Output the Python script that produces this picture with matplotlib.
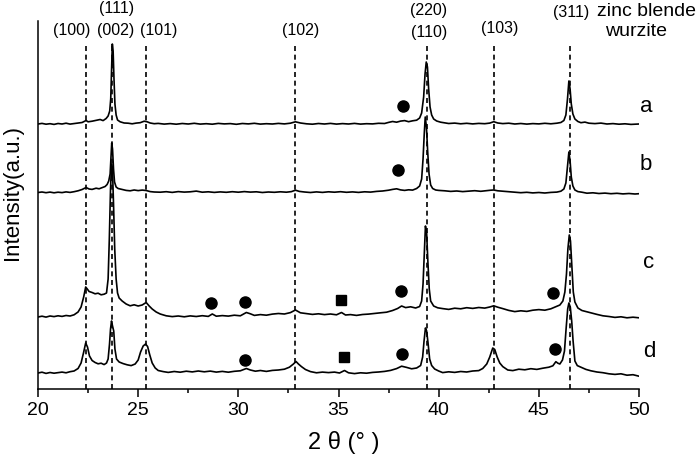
import matplotlib
matplotlib.use("Agg")
import matplotlib.pyplot as plt
from matplotlib.ticker import MultipleLocator
import numpy as np

plt.rcParams['font.family'] = ['Liberation Sans', 'DejaVu Sans']

# XRD patterns, stacked (2theta, intensity in a.u. with offset)
curve_a = [(20.0,265),(20.2,265.6),(20.4,264.8),(20.6,265.3),(20.8,264.6),(21.0,265.5),(21.2,265.0),(21.4,265.8),
           (21.6,264.9),(21.8,265.4),(22.0,265.9),(22.2,266.5),(22.4,268.5),(22.5,267.2),(22.7,267.8),(22.9,268.6),
           (23.1,269.5),(23.25,268.4),(23.4,270.5),(23.5,273),(23.58,278),(23.63,290),(23.67,318),(23.71,345),
           (23.75,338),(23.79,312),(23.84,285),(23.9,274),(23.97,269),(24.1,267.2),(24.3,266),(24.5,265.8),
           (24.7,265.2),(24.9,265.9),(25.1,266.3),(25.3,267.8),(25.45,267.2),(25.6,266),(25.8,265.3),(26.0,265.6),
           (26.3,264.9),(26.6,265.4),(26.9,264.8),(27.2,265.5),(27.5,265),(27.8,265.7),(28.1,264.9),(28.4,265.3),
           (28.7,264.8),(29.0,265.6),(29.3,265.1),(29.6,265.4),(29.9,264.7),(30.2,265.5),(30.5,265.1),(30.8,265.7),
           (31.1,264.9),(31.4,265.3),(31.7,265),(32.0,265.6),(32.3,265.1),(32.6,265.8),(32.85,267.2),(33.1,266),
           (33.4,265.2),(33.7,264.8),(34.0,265.5),(34.3,265),(34.6,265.6),(34.9,264.9),(35.2,265.4),(35.5,265),
           (35.8,265.6),(36.1,264.9),(36.4,265.3),(36.7,265.1),(37.0,265.7),(37.3,265.5),(37.5,266.6),(37.7,267.5),
           (37.9,266.8),(38.1,267.9),(38.3,268.4),(38.5,267.3),(38.7,268.2),(38.9,268.8),(39.05,271),(39.15,276),
           (39.25,292),(39.32,315),(39.38,327),(39.44,322),(39.5,300),(39.57,282),(39.65,274),(39.75,270),
           (39.9,268),(40.1,266.8),(40.3,266.2),(40.5,265.5),(40.8,265.9),(41.1,265.2),(41.4,265.7),(41.7,265.1),
           (42.0,265.6),(42.3,265.3),(42.55,265.9),(42.75,267.3),(42.95,266),(43.2,265.4),(43.5,265.8),(43.8,265),
           (44.1,265.5),(44.4,264.9),(44.7,265.4),(45.0,265.1),(45.3,265.7),(45.6,265.2),(45.9,265.8),(46.1,266.5),
           (46.25,268.5),(46.35,274),(46.43,290),(46.5,308),(46.56,300),(46.62,285),(46.7,275),(46.8,270),
           (46.95,267.5),(47.1,266.3),(47.3,266.9),(47.5,265.8),(47.8,265.4),(48.1,265.9),(48.4,265),(48.7,265.4),
           (49.0,264.8),(49.3,265.2),(49.6,264.6),(50.0,265)]

curve_b = [(20.0,196.5),(20.2,197),(20.4,196.3),(20.6,196.9),(20.8,196.2),(21.0,196.8),(21.2,196.4),(21.4,197.1),
           (21.6,196.6),(21.8,197.3),(22.0,198.2),(22.2,199.5),(22.4,201.5),(22.55,200),(22.7,199.6),(22.9,200.8),
           (23.05,200.2),(23.2,201.3),(23.35,202.5),(23.45,204.5),(23.53,208),(23.6,215),(23.64,230),(23.68,246),
           (23.72,240),(23.77,220),(23.82,207),(23.9,202),(24.0,200.5),(24.2,199.5),(24.4,198.6),(24.6,198.2),
           (24.8,199),(25.0,198.4),(25.2,198.9),(25.4,198.5),(25.6,197.4),(25.8,197),(26.1,196.8),(26.4,197.3),
           (26.7,196.6),(27.0,197.4),(27.3,196.9),(27.6,197.2),(27.9,197.9),(28.2,196.8),(28.5,197.2),(28.8,196.6),
           (29.1,197.1),(29.4,196.7),(29.7,197.3),(30.0,196.8),(30.3,197.4),(30.6,196.9),(30.9,197.2),(31.2,196.5),
           (31.5,197),(31.8,196.7),(32.1,197.2),(32.4,196.8),(32.65,197.4),(32.85,198.8),(33.05,197.6),(33.3,197),
           (33.6,196.5),(33.9,197.1),(34.2,196.6),(34.5,197.2),(34.8,196.8),(35.1,197.3),(35.4,196.7),(35.7,197.1),
           (36.0,196.6),(36.3,197.2),(36.6,196.9),(36.9,197.6),(37.2,198),(37.5,198.8),(37.7,199.6),(37.9,200.2),
           (38.1,199.1),(38.3,198.6),(38.5,199.2),(38.7,198.9),(38.9,200.5),(39.05,203),(39.15,210),(39.22,230),
           (39.28,255),(39.33,272),(39.39,262),(39.45,238),(39.52,215),(39.6,204),(39.7,200.5),(39.85,199),
           (40.0,198.6),(40.3,198.2),(40.6,197.6),(40.9,198),(41.2,197.4),(41.5,197.9),(41.8,198.3),(42.1,197.7),
           (42.4,198.4),(42.6,198.8),(42.75,199),(42.95,198.2),(43.2,197.8),(43.5,197.4),(43.8,196.8),(44.1,196.3),
           (44.4,196.7),(44.7,196.1),(45.0,196.5),(45.3,196),(45.6,196.6),(45.9,196.9),(46.1,197.8),(46.25,200),
           (46.35,206),(46.43,222),(46.5,237),(46.56,228),(46.62,212),(46.7,203),(46.8,199),(46.95,197.4),
           (47.15,196.8),(47.4,195.8),(47.7,196.2),(48.0,195.5),(48.3,195.9),(48.6,195.3),(48.9,195.7),(49.2,195.1),
           (49.5,195.5),(49.8,195),(50.0,195.3)]

curve_c = [(20.0,72),(20.2,72.8),(20.4,71.9),(20.6,73),(20.8,72.4),(21.0,73.2),(21.2,72.6),(21.4,73.5),
           (21.6,73),(21.8,74.2),(22.0,77),(22.15,82),(22.28,92),(22.38,102),(22.46,100),(22.55,97.5),
           (22.7,96.5),(22.85,95.2),(23.0,95.8),(23.15,94.2),(23.3,94.8),(23.42,96),(23.5,110),(23.56,150),
           (23.62,200),(23.67,225),(23.72,218),(23.77,185),(23.83,140),(23.9,110),(23.97,96),(24.05,91),
           (24.2,88),(24.4,85),(24.6,83.2),(24.8,84.2),(25.0,83),(25.2,84),(25.4,86.5),(25.55,83),
           (25.7,80),(25.9,77),(26.1,75),(26.4,73.2),(26.7,72.4),(27.0,73),(27.3,72.2),(27.6,73.1),
           (27.9,72.5),(28.2,73.3),(28.5,72.6),(28.7,75),(28.9,72.8),(29.2,73.4),(29.5,72.9),(29.8,73.8),
           (30.1,73.2),(30.4,76.5),(30.6,75.2),(30.8,73.6),(31.1,74.4),(31.4,73.8),(31.7,74.9),(32.0,75.5),
           (32.3,75),(32.6,76.4),(32.85,79),(33.1,76.2),(33.4,75.4),(33.7,74.6),(34.0,75.2),(34.3,74.4),
           (34.6,75),(34.9,74.2),(35.15,76.5),(35.35,74),(35.6,74.4),(35.9,73.6),(36.2,74.5),(36.5,74.9),
           (36.8,75.6),(37.1,76.2),(37.4,76.8),(37.7,78.5),(37.95,80.5),(38.15,83),(38.35,81.4),(38.6,82.2),
           (38.85,81),(39.05,82.5),(39.15,88),(39.22,105),(39.28,135),(39.34,163),(39.4,156),(39.46,128),
           (39.53,100),(39.6,88),(39.75,83),(39.95,81.2),(40.2,80.4),(40.5,79.6),(40.8,80.8),(41.1,80.2),
           (41.4,81.3),(41.7,80.6),(42.0,81.5),(42.3,80.9),(42.55,82),(42.75,83.2),(42.95,81.8),(43.2,80.4),
           (43.5,78.6),(43.8,77.4),(44.1,78.2),(44.4,77.6),(44.7,78.8),(45.0,79.4),(45.3,78.8),(45.6,80.2),
           (45.85,82.3),(46.05,84),(46.2,88),(46.3,97),(46.38,115),(46.45,140),(46.52,154),(46.58,148),
           (46.65,122),(46.72,97),(46.8,87),(46.95,81),(47.15,78.5),(47.4,77.2),(47.65,75.8),(47.9,74.6),
           (48.2,73.2),(48.5,72.5),(48.8,71.6),(49.1,72.2),(49.4,71.2),(49.7,71.8),(50.0,71.2)]

curve_d = [(20.0,16),(20.2,16.8),(20.4,15.6),(20.6,16.5),(20.8,15.8),(21.0,16.4),(21.2,16.9),(21.4,16.2),
           (21.6,17.3),(21.8,18),(22.0,20.5),(22.15,26),(22.27,36),(22.38,46),(22.47,42),(22.57,33),
           (22.7,28.5),(22.85,26.5),(23.0,25.2),(23.15,25.8),(23.3,24.4),(23.42,26),(23.5,30),(23.57,45),
           (23.62,60),(23.67,68),(23.72,63),(23.78,58),(23.84,40),(23.92,30),(24.05,27),(24.25,25.4),
           (24.45,24.2),(24.65,23.4),(24.85,25),(25.0,29),(25.12,37),(25.25,43),(25.37,45),(25.47,42.5),
           (25.58,34),(25.7,26),(25.85,21),(26.0,18.5),(26.25,17.4),(26.5,16.6),(26.8,17.5),(27.1,16.8),
           (27.4,17.8),(27.7,17.1),(28.0,18),(28.3,17.2),(28.6,17.9),(28.9,16.9),(29.2,17.6),(29.5,16.8),
           (29.8,17.7),(30.1,18.2),(30.4,20.5),(30.6,19),(30.85,17.8),(31.1,18.5),(31.4,17.6),(31.7,18.6),
           (32.0,19),(32.3,19.8),(32.55,21.8),(32.75,25),(32.88,27.5),(33.0,25),(33.15,22.4),(33.35,19.5),
           (33.6,17.4),(33.9,16.2),(34.2,16.9),(34.5,16.4),(34.8,16.9),(35.05,16),(35.3,18.5),(35.5,16.2),
           (35.8,15.4),(36.1,16.2),(36.4,15.8),(36.7,16.6),(37.0,17),(37.3,17.6),(37.6,18.6),(37.9,20.4),
           (38.15,22.8),(38.4,21.6),(38.65,20.2),(38.9,21),(39.1,23.5),(39.2,32),(39.27,48),(39.34,61),
           (39.4,58),(39.47,46),(39.55,30),(39.65,23.5),(39.8,20),(40.0,18),(40.2,16.4),(40.5,17.2),
           (40.8,16.6),(41.1,17.5),(41.4,17),(41.7,18),(42.0,18.4),(42.2,20.5),(42.4,25),(42.55,32),
           (42.7,41),(42.8,39.5),(42.92,32),(43.05,26),(43.2,22.4),(43.45,19),(43.7,18.4),(44.0,19.8),
           (44.3,19.2),(44.6,20.3),(44.9,19.6),(45.2,20.8),(45.5,21.8),(45.7,23.2),(45.85,27.3),(45.95,25.8),
           (46.05,25),(46.18,29),(46.28,38),(46.36,60),(46.44,80),(46.5,86),(46.57,82),(46.64,68),
           (46.71,48),(46.8,28),(46.92,23.4),(47.1,21.8),(47.35,19.6),(47.6,18.2),(47.9,17),(48.2,16.3),
           (48.5,15.2),(48.8,14.6),(49.1,15.2),(49.4,13.8),(49.7,14.3),(50.0,12.8)]

# reflection positions (dashed lines)
refl_pos = [22.4, 23.7, 25.4, 32.85, 39.4, 42.75, 46.55]

# Miller index labels (x, y, text)
hkl_labels = [(23.94, 382, '(111)'), (21.70, 360, '(100)'), (23.87, 360, '(002)'), (26.04, 360, '(101)'),
              (33.13, 360, '(102)'), (39.52, 380, '(220)'), (39.52, 358, '(110)'), (43.07, 362, '(103)'),
              (46.63, 378, '(311)')]
phase_labels = [(50.35, 378, 'zinc blende'), (49.85, 358, 'wurzite')]
curve_labels = [(50.05, 283, 'a'), (50.05, 225, 'b'), (50.2, 128, 'c'), (50.2, 38, 'd')]

# impurity marks
circle_x = [38.24, 37.96, 28.64, 30.34, 38.1, 45.71, 30.34, 38.19, 45.8]
circle_y = [283, 219.3, 86, 87.3, 98, 96, 29.3, 35.3, 40]
square_x = [35.11, 35.28]
square_y = [89.3, 32]

fig = plt.figure(figsize=(7, 4.56), dpi=100)
ax = fig.add_axes([38/700, 66/456, 601/700, 368/456])

for curve in [curve_a, curve_b, curve_c, curve_d]:
    xy = np.array(curve)
    ax.plot(xy[:, 0], xy[:, 1], color='black', lw=1.2)

ax.vlines(refl_pos, 0, 345, colors='black', linestyles=(0, (3, 2.2)), lw=1.2)

ax.plot(circle_x, circle_y, 'o', color='black', ms=8)
ax.plot(square_x, square_y, 's', color='black', ms=6.5)

for x, y, t in hkl_labels:
    ax.text(x, y, t, ha='center', va='center', fontsize=11.5)
for x, y, t in phase_labels:
    ax.text(x, y, t, ha='center', va='center', fontsize=14)
for x, y, t in curve_labels:
    ax.text(x, y, t, ha='left', va='center', fontsize=16)

# axes
ax.set_xlim(20, 50)
ax.set_ylim(0, 368)
ax.set_xticks(range(20, 51, 5))
ax.xaxis.set_minor_locator(MultipleLocator(2.5))
ax.set_yticks([])
ax.tick_params(axis='x', which='major', direction='out', length=6, width=1.1, labelsize=14, pad=3)
ax.tick_params(axis='x', which='minor', direction='out', length=3, width=1.1)
ax.spines['top'].set_visible(False)
ax.spines['right'].set_visible(False)
ax.spines['left'].set_linewidth(1.1)
ax.spines['bottom'].set_linewidth(1.1)

ax.set_xlabel('2 θ (° )', fontsize=17)
ax.xaxis.set_label_coords(0.508, -0.144)
ax.xaxis.label.set_va('center')
ax.set_ylabel('Intensity(a.u.)', fontsize=16)
ax.yaxis.set_label_coords(-0.043, 0.537)
ax.yaxis.label.set_va('center')

plt.savefig('out.png', dpi=100)
